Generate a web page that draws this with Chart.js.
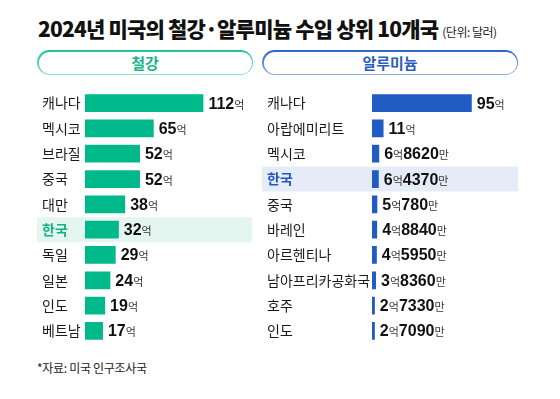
<!DOCTYPE html>
<html>
<head>
<meta charset="utf-8">
<script src="https://cdn.jsdelivr.net/npm/chart.js@4.4.1/dist/chart.umd.min.js"></script>
<style>
  html,body{margin:0;padding:0;background:#fff;}
  body{width:560px;height:399px;position:relative;overflow:hidden;font-family:"Noto Sans CJK KR",sans-serif;}
  #title{position:absolute;left:38px;top:13px;font-size:21px;font-weight:900;letter-spacing:-0.8px;color:#111;white-space:nowrap;}
  #title small{font-size:12px;font-weight:400;letter-spacing:-0.5px;margin-left:4px;color:#222;}
  .pill{position:absolute;top:50px;height:25px;border-radius:13px;padding:1.5px;box-sizing:border-box;}
  .pill div{width:100%;height:100%;background:#fff;border-radius:12px;text-align:center;font-size:15px;font-weight:700;line-height:21px;}
  #pillL{left:37px;width:216px;background:linear-gradient(#1fc194,#90e0ca);}
  #pillL div{color:#17b585;}
  #pillR{left:262px;width:256px;background:linear-gradient(#2e64c9,#93b0e4);}
  #pillR div{color:#2a5cbf;}
  canvas{position:absolute;}
  #note{position:absolute;left:37px;top:359px;font-size:12px;color:#222;letter-spacing:-0.3px;}
</style>
</head>
<body>
<div id="title">2024년 미국의 철강·알루미늄 수입 상위 10개국<small>(단위: 달러)</small></div>
<div class="pill" id="pillL"><div>철강</div></div>
<div class="pill" id="pillR"><div>알루미늄</div></div>
<canvas id="steel" width="215" height="270" style="left:37px;top:82px"></canvas>
<canvas id="alu" width="256" height="270" style="left:262px;top:82px"></canvas>
<div id="note">*자료: 미국 인구조사국</div>
<script>
// values in 억 달러
const steelCountries = ['캐나다','멕시코','브라질','중국','대만','한국','독일','일본','인도','베트남'];
const steelValues = [112, 65, 52, 52, 38, 32, 29, 24, 19, 17];
const aluCountries = ['캐나다','아랍에미리트','멕시코','한국','중국','바레인','아르헨티나','남아프리카공화국','호주','인도'];
const aluValues = [95, 11, 6.862, 6.437, 5.078, 4.884, 4.595, 3.836, 2.733, 2.709];
const koreaIdx = {steel: 5, alu: 3};

const NUM_FONT = '"Liberation Sans Narrow","Arial Narrow",sans-serif';
const KR_FONT = '"Noto Sans CJK KR",sans-serif';

// 6.862 -> 6억 8620만
function parts(v){
  if(Number.isInteger(v)) return [[String(v),true],['억',false]];
  const eok = Math.floor(v), man = Math.round((v-eok)*10000);
  return [[String(eok),true],['억',false],[String(man),true],['만',false]];
}

const rowHighlight = {
  id:'rowHighlight',
  beforeDraw(chart, args, opts){
    const y = chart.scales.y, c = chart.ctx;
    const py = y.getPixelForValue(opts.index);
    c.save();
    c.fillStyle = opts.color;
    c.fillRect(0, py-12.5, chart.width, 25);
    c.restore();
  }
};

const valueLabels = {
  id:'valueLabels',
  afterDatasetsDraw(chart){
    const c = chart.ctx;
    const meta = chart.getDatasetMeta(0);
    const vals = chart.data.datasets[0].data;
    c.save();
    c.textBaseline = 'alphabetic';
    meta.data.forEach((bar,i)=>{
      let x = bar.x + 5;
      const base = bar.y + 5.5;
      parts(vals[i]).forEach(([t,isNum])=>{
        c.font = isNum ? 'bold 16px '+NUM_FONT : '11px '+KR_FONT;
        c.fillStyle = isNum ? '#111' : '#333';
        c.fillText(t, x, base);
        x += c.measureText(t).width;
      });
    });
    c.restore();
  }
};

function makeChart(id, labels, values, color, hiColor, hiBg, kIdx, axisW, xMax){
  return new Chart(document.getElementById(id), {
    type:'bar',
    data:{labels, datasets:[{data:values, backgroundColor:color, barPercentage:0.7, categoryPercentage:1}]},
    options:{
      indexAxis:'y', responsive:false, animation:false,
      layout:{padding:{left:5,right:0,top:0,bottom:0}},
      plugins:{legend:{display:false}, tooltip:{enabled:false}, rowHighlight:{index:kIdx, color:hiBg}},
      scales:{
        x:{display:false, min:0, max:xMax},
        y:{
          grid:{display:false}, border:{display:false},
          afterFit(s){ s.width = axisW; },
          ticks:{
            crossAlign:'far', padding:0,
            color:(ctx)=> ctx.index===kIdx ? hiColor : '#1a1a1a',
            font:(ctx)=> ({family:KR_FONT, size:14, weight: ctx.index===kIdx ? '700' : '400'})
          }
        }
      }
    },
    plugins:[rowHighlight, valueLabels]
  });
}

makeChart('steel', steelCountries, steelValues, '#00b98a', '#15b286', '#e5f6f0', koreaIdx.steel, 43, 158);
makeChart('alu', aluCountries, aluValues, '#1f5bc3', '#2458bd', '#e6ecf7', koreaIdx.alu, 105, 139);
</script>
</body>
</html>
